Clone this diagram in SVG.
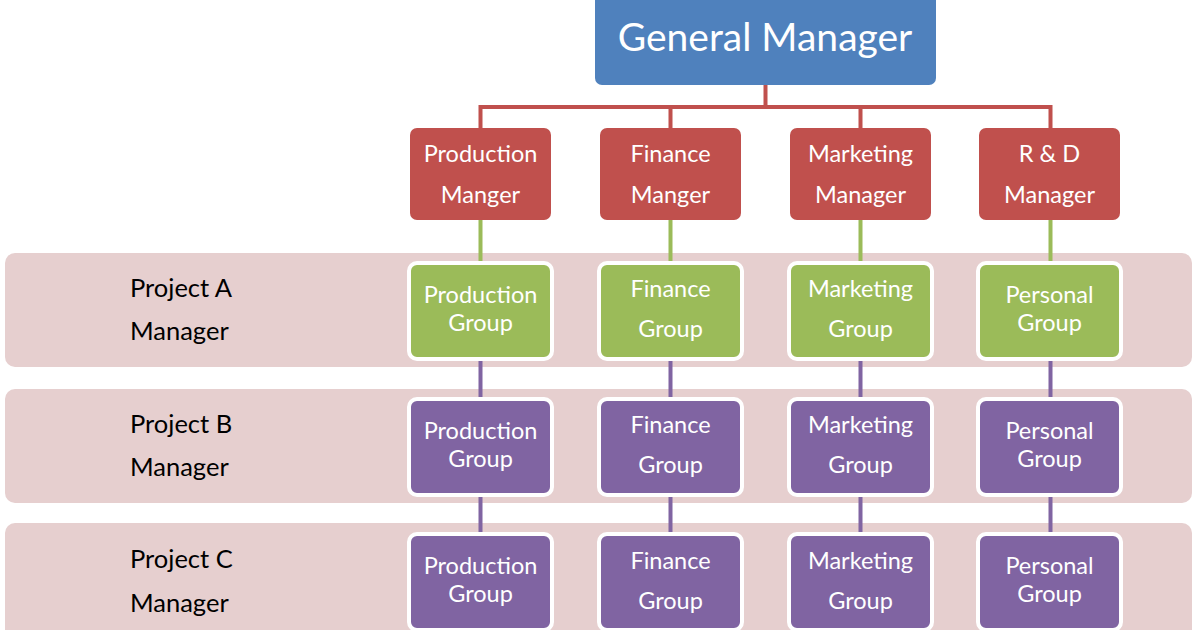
<svg xmlns="http://www.w3.org/2000/svg" width="1200" height="630" viewBox="0 0 1200 630">
<style>
.band{fill:#E6CFCF}
.gm{fill:#4F81BD}
.mgr{fill:#C0504D}
.grn{fill:#9BBB59;stroke:#FFFFFF;stroke-width:4}
.pur{fill:#8064A2;stroke:#FFFFFF;stroke-width:4}
.t{font-family:Lato,"Open Sans",sans-serif;fill:#FFFFFF;text-anchor:middle;font-size:23.5px}
.lbl{font-family:Lato,"Open Sans",sans-serif;fill:#000000;font-size:25.5px}
.cr{stroke:#C0504D;stroke-width:4;fill:none}
.cg{stroke:#9BBB59;stroke-width:4;fill:none}
.cp{stroke:#8064A2;stroke-width:4;fill:none}
</style>
<rect width="1200" height="630" fill="#FFFFFF"/>
<g id="bands">
<rect class="band" x="5" y="253" width="1187" height="114" rx="10"/>
<rect class="band" x="5" y="389" width="1187" height="114" rx="10"/>
<rect class="band" x="5" y="523" width="1187" height="130" rx="10"/>
</g>
<g id="labels">
<text class="lbl" x="130" y="297">Project A</text>
<text class="lbl" x="130" y="340">Manager</text>
<text class="lbl" x="130" y="433">Project B</text>
<text class="lbl" x="130" y="476">Manager</text>
<text class="lbl" x="130" y="568">Project C</text>
<text class="lbl" x="130" y="612">Manager</text>
</g>
<g id="connectors">
<path class="cr" d="M765.5 85 V107 M480.5 107 H1050.5 M480.5 105 V128 M670.5 105 V128 M860.5 105 V128 M1050.5 105 V128"/>
<path class="cg" d="M480.5 220 V263 M670.5 220 V263 M860.5 220 V263 M1050.5 220 V263"/>
<path class="cp" d="M480.5 359 V399 M670.5 359 V399 M860.5 359 V399 M1050.5 359 V399 M480.5 495 V534 M670.5 495 V534 M860.5 495 V534 M1050.5 495 V534"/>
</g>
<g id="general-manager">
<rect class="gm" x="595" y="-8" width="341" height="93" rx="7"/>
<text class="t" x="765" y="51" style="font-size:39px">General Manager</text>
</g>
<g id="production-manager">
<rect class="mgr" x="410" y="128" width="141" height="92" rx="7"/>
<text class="t" x="480.5" y="162">Production</text>
<text class="t" x="480.5" y="203">Manger</text>
</g>
<g id="finance-manager">
<rect class="mgr" x="600" y="128" width="141" height="92" rx="7"/>
<text class="t" x="670.5" y="162">Finance</text>
<text class="t" x="670.5" y="203">Manger</text>
</g>
<g id="marketing-manager">
<rect class="mgr" x="790" y="128" width="141" height="92" rx="7"/>
<text class="t" x="860.5" y="162">Marketing</text>
<text class="t" x="860.5" y="203">Manager</text>
</g>
<g id="rd-manager">
<rect class="mgr" x="979" y="128" width="141" height="92" rx="7"/>
<text class="t" x="1049.5" y="162">R &amp; D</text>
<text class="t" x="1049.5" y="203">Manager</text>
</g>
<g id="a-production">
<rect class="grn" x="409" y="263" width="143" height="96" rx="8"/>
<text class="t" x="480.5" y="303">Production</text>
<text class="t" x="480.5" y="331">Group</text>
</g>
<g id="a-finance">
<rect class="grn" x="599" y="263" width="143" height="96" rx="8"/>
<text class="t" x="670.5" y="297">Finance</text>
<text class="t" x="670.5" y="337">Group</text>
</g>
<g id="a-marketing">
<rect class="grn" x="789" y="263" width="143" height="96" rx="8"/>
<text class="t" x="860.5" y="297">Marketing</text>
<text class="t" x="860.5" y="337">Group</text>
</g>
<g id="a-personal">
<rect class="grn" x="978" y="263" width="143" height="96" rx="8"/>
<text class="t" x="1049.5" y="303">Personal</text>
<text class="t" x="1049.5" y="331">Group</text>
</g>
<g id="b-production">
<rect class="pur" x="409" y="399" width="143" height="96" rx="8"/>
<text class="t" x="480.5" y="439">Production</text>
<text class="t" x="480.5" y="467">Group</text>
</g>
<g id="b-finance">
<rect class="pur" x="599" y="399" width="143" height="96" rx="8"/>
<text class="t" x="670.5" y="433">Finance</text>
<text class="t" x="670.5" y="473">Group</text>
</g>
<g id="b-marketing">
<rect class="pur" x="789" y="399" width="143" height="96" rx="8"/>
<text class="t" x="860.5" y="433">Marketing</text>
<text class="t" x="860.5" y="473">Group</text>
</g>
<g id="b-personal">
<rect class="pur" x="978" y="399" width="143" height="96" rx="8"/>
<text class="t" x="1049.5" y="439">Personal</text>
<text class="t" x="1049.5" y="467">Group</text>
</g>
<g id="c-production">
<rect class="pur" x="409" y="534" width="143" height="96" rx="8"/>
<text class="t" x="480.5" y="574">Production</text>
<text class="t" x="480.5" y="602">Group</text>
</g>
<g id="c-finance">
<rect class="pur" x="599" y="534" width="143" height="96" rx="8"/>
<text class="t" x="670.5" y="569">Finance</text>
<text class="t" x="670.5" y="609">Group</text>
</g>
<g id="c-marketing">
<rect class="pur" x="789" y="534" width="143" height="96" rx="8"/>
<text class="t" x="860.5" y="569">Marketing</text>
<text class="t" x="860.5" y="609">Group</text>
</g>
<g id="c-personal">
<rect class="pur" x="978" y="534" width="143" height="96" rx="8"/>
<text class="t" x="1049.5" y="574">Personal</text>
<text class="t" x="1049.5" y="602">Group</text>
</g>
</svg>
